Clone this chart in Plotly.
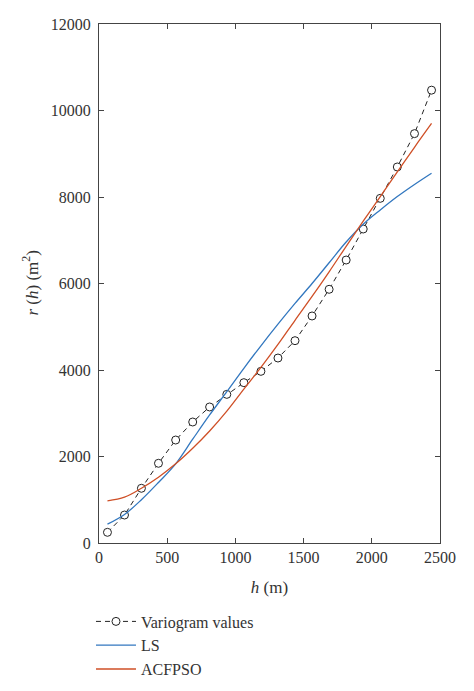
import plotly.graph_objects as go

# lag distance (m)
h = [62, 187, 311, 436, 562, 687, 811, 937, 1062, 1187,
     1312, 1437, 1562, 1687, 1812, 1937, 2062, 2187, 2313, 2438]

# experimental variogram
variogram = [247, 647, 1265, 1843, 2381, 2798, 3145, 3437, 3707, 3969,
             4277, 4678, 5249, 5866, 6543, 7260, 7969, 8694, 9465, 10470]

# fitted models
ls_fit = [435, 660, 1000, 1400, 1830, 2400, 2960, 3500, 4040, 4560,
          5060, 5540, 6000, 6480, 6960, 7370, 7700, 8010, 8290, 8550]
acfpso_fit = [975, 1060, 1265, 1520, 1830, 2190, 2590, 3050, 3560, 4060,
              4590, 5150, 5700, 6270, 6860, 7440, 8010, 8580, 9150, 9700]

x_ticks = [0, 500, 1000, 1500, 2000, 2500]
y_ticks = [0, 2000, 4000, 6000, 8000, 10000, 12000]
y_tick_labels = ["0", "2000", "4000", "6000", "8000", "10000", "12000"]

FONT = "Liberation Serif"
AXIS_COLOR = "#444444"
TEXT_COLOR = "#333333"

fig = go.Figure()
fig.add_trace(go.Scatter(
    x=h, y=variogram, mode="lines+markers", name="Variogram values",
    line=dict(color="#222222", width=1, dash="5px,4px"),
    marker=dict(symbol="circle", size=8, color="white",
                line=dict(color="#222222", width=1)),
))
fig.add_trace(go.Scatter(
    x=h, y=ls_fit, mode="lines", name="LS",
    line=dict(color="#3277bf", width=1.3, shape="spline"),
))
fig.add_trace(go.Scatter(
    x=h, y=acfpso_fit, mode="lines", name="ACFPSO",
    line=dict(color="#cf4f26", width=1.3, shape="spline"),
))

axis_common = dict(
    showgrid=False, zeroline=False, showline=True, mirror="ticks",
    linecolor=AXIS_COLOR, linewidth=1, ticks="inside", ticklen=5,
    tickcolor=AXIS_COLOR, automargin=False,
    tickfont=dict(family=FONT, size=16, color=TEXT_COLOR),
)

fig.update_xaxes(
    range=[0, 2500], tickvals=x_ticks,
    title=dict(text="<i>h</i> (m)", font=dict(family=FONT, size=17, color=TEXT_COLOR)),
    **axis_common,
)
fig.update_yaxes(
    range=[0, 12000], tickvals=y_ticks, ticktext=y_tick_labels,
    ticklabelstandoff=4,
    **axis_common,
)

# y title as an annotation so it can sit a little closer to the tick labels
fig.add_annotation(
    text="<i>r</i> (<i>h</i>) (m<sup>2</sup>)",
    xref="paper", yref="paper", x=0, y=0.5, xanchor="center", yanchor="middle",
    xshift=-69, textangle=-90, showarrow=False,
    font=dict(family=FONT, size=17, color=TEXT_COLOR),
)

# the page body adds an 8px offset, so margins are set relative to that
fig.update_layout(
    width=474, height=691,
    margin=dict(l=91, r=42, t=16, b=156),
    paper_bgcolor="white", plot_bgcolor="white",
    font=dict(family=FONT, size=16, color=TEXT_COLOR),
    legend=dict(
        x=-0.0235, xanchor="left", y=-0.1185, yanchor="top",
        bgcolor="rgba(0,0,0,0)", font=dict(family=FONT, size=16, color=TEXT_COLOR),
        itemwidth=40, tracegroupgap=0,
    ),
    showlegend=True,
)

fig.write_html("out.html")
